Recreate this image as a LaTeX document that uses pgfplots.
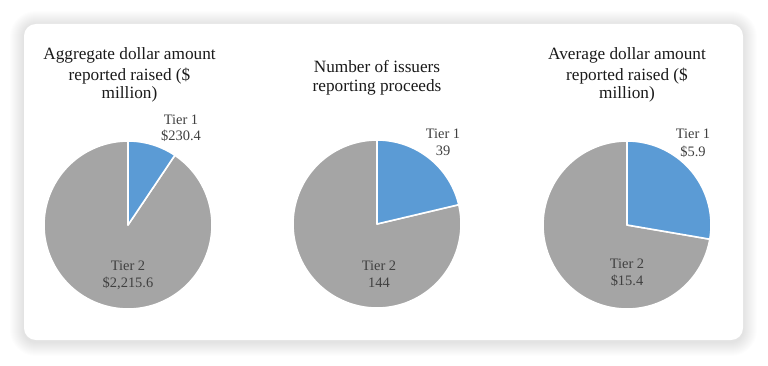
\documentclass[border=0pt]{standalone}
\usepackage{fontspec}
\setmainfont{Liberation Serif}
\usepackage{pgfplots}
\pgfplotsset{compat=1.18}
\definecolor{tierone}{HTML}{5B9BD5}
\definecolor{tiertwo}{HTML}{A5A5A5}
\definecolor{lbl}{HTML}{404040}
\definecolor{ttl}{HTML}{1A1A1A}

% cx, cy (from top), tier 1 value, tier 2 value
\newcommand\pie[4]{%
  \pgfmathsetmacro\frac{#3/(#3+#4)}%
  \pgfmathsetmacro\ang{90-360*\frac}%
  \pgfmathsetmacro\cy{365-#2}%
  \begin{axis}[at={(#1bp,\cy bp)}, anchor=center, width=168bp, height=168bp,
      scale only axis, xmin=-1, xmax=1, ymin=-1, ymax=1, hide axis, clip=false]
    \addplot[fill=tiertwo, draw=white, line width=1.6bp, line join=round,
      domain=-270:\ang, samples=120, variable=\t]
      ({cos(\t)},{sin(\t)}) -- (axis cs:0,0) -- cycle;
    \addplot[fill=tierone, draw=white, line width=1.6bp, line join=round,
      domain=\ang:90, samples=60, variable=\t]
      ({cos(\t)},{sin(\t)}) -- (axis cs:0,0) -- cycle;
  \end{axis}%
}

\begin{document}
\begin{tikzpicture}[x=1bp,y=1bp]
  \fill[white] (0,0) rectangle (768,365);
  \foreach \k in {1,...,14}{
    \fill[black, opacity=0.008, rounded corners=12+\k]
      (24-\k, 25-\k-2) rectangle (743+\k, 341+\k-1);
  }
  \fill[white, rounded corners=12] (24,25) rectangle (743,341);

  \pie{128}{225}{230.4}{2215.6}
  \pie{377}{224}{39}{144}
  \pie{627}{225}{5.9}{15.4}

  \tikzset{ttlfont/.style={anchor=base, text=ttl, font=\fontsize{17.3}{20}\selectfont},
           lblfont/.style={anchor=base, text=lbl, font=\fontsize{14.5}{16}\selectfont}}
  % titles
  \node[ttlfont] at (129.5,365-59) {Aggregate dollar amount};
  \node[ttlfont] at (129.5,365-80) {reported raised (\$};
  \node[ttlfont] at (129.5,365-98) {million)};
  \node[ttlfont] at (377,365-72) {Number of issuers};
  \node[ttlfont] at (377,365-91) {reporting proceeds};
  \node[ttlfont] at (627,365-59) {Average dollar amount};
  \node[ttlfont] at (627,365-80) {reported raised (\$};
  \node[ttlfont] at (627,365-98) {million)};
  % labels
  \node[lblfont] at (181,365-124) {Tier 1};
  \node[lblfont] at (181,365-140) {\$230.4};
  \node[lblfont] at (128,365-270) {Tier 2};
  \node[lblfont] at (128,365-287) {\$2,215.6};
  \node[lblfont] at (443,365-138) {Tier 1};
  \node[lblfont] at (443,365-155) {39};
  \node[lblfont] at (379,365-270) {Tier 2};
  \node[lblfont] at (379,365-287) {144};
  \node[lblfont] at (693,365-138) {Tier 1};
  \node[lblfont] at (693,365-156) {\$5.9};
  \node[lblfont] at (627,365-268) {Tier 2};
  \node[lblfont] at (627,365-285) {\$15.4};
\end{tikzpicture}
\end{document}
